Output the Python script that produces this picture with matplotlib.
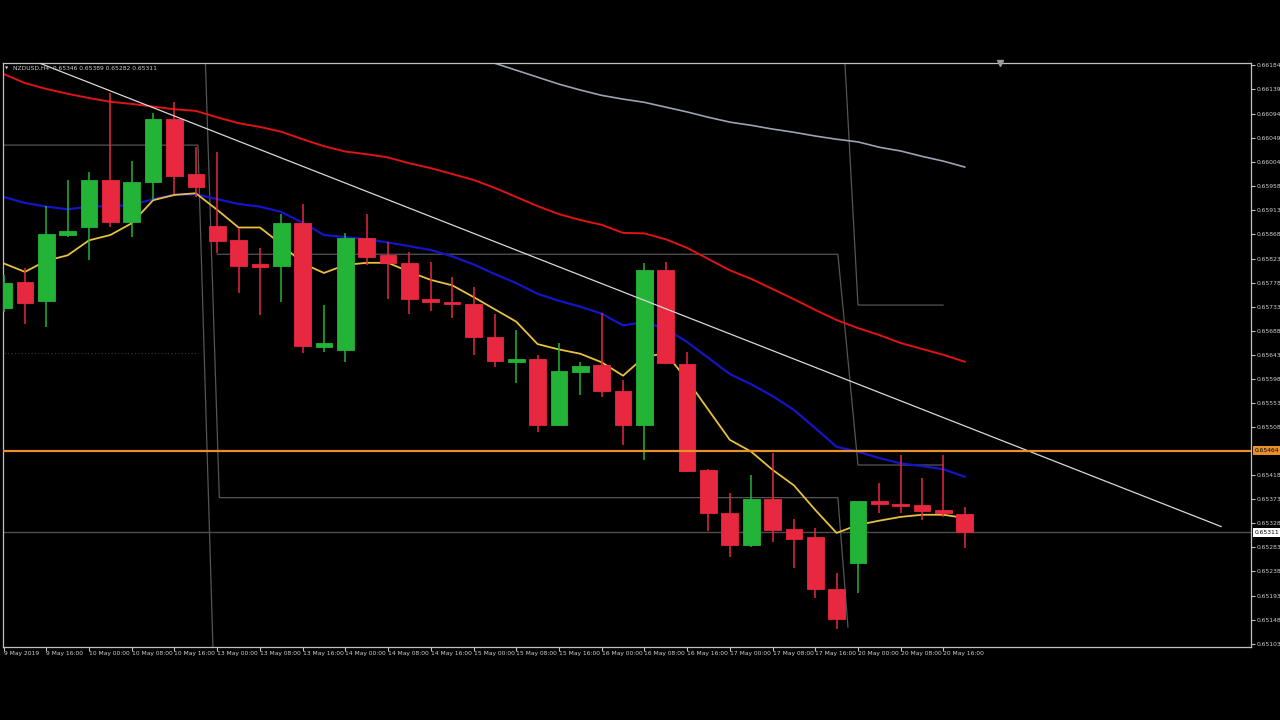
import matplotlib
matplotlib.use("Agg")
import matplotlib.pyplot as plt
import matplotlib.transforms as mtransforms
import numpy as np

# header / axis texts
symbol_text = "NZDUSD,H4  0.65346 0.65389 0.65282 0.65311"
time_labels = ["9 May 2019", "9 May 16:00", "10 May 00:00", "10 May 08:00", "10 May 16:00",
               "13 May 00:00", "13 May 08:00", "13 May 16:00", "14 May 00:00", "14 May 08:00",
               "14 May 16:00", "15 May 00:00", "15 May 08:00", "15 May 16:00", "16 May 00:00",
               "16 May 08:00", "16 May 16:00", "17 May 00:00", "17 May 08:00", "17 May 16:00",
               "20 May 00:00", "20 May 08:00", "20 May 16:00"]
price_ticks = [0.66184, 0.66139, 0.66094, 0.66049, 0.66004, 0.65958, 0.65913, 0.65868, 0.65823,
               0.65778, 0.65733, 0.65688, 0.65643, 0.65598, 0.65553, 0.65508, 0.65418, 0.65373,
               0.65328, 0.65283, 0.65238, 0.65193, 0.65148, 0.65103]

# H4 candles
opens = [0.65730, 0.65780, 0.65743, 0.65867, 0.65881, 0.65970, 0.65891, 0.65966, 0.66084, 0.65981,
         0.65884, 0.65857, 0.65813, 0.65809, 0.65889, 0.65658, 0.65652, 0.65861, 0.65829, 0.65814,
         0.65747, 0.65742, 0.65738, 0.65677, 0.65630, 0.65636, 0.65512, 0.65611, 0.65624, 0.65576,
         0.65512, 0.65801, 0.65626, 0.65428, 0.65348, 0.65287, 0.65373, 0.65317, 0.65302, 0.65206,
         0.65253, 0.65370, 0.65364, 0.65362, 0.65353, 0.65346]
highs = [0.65792, 0.65805, 0.65921, 0.65970, 0.65985, 0.66132, 0.66005, 0.66095, 0.66116, 0.66032,
         0.66023, 0.65880, 0.65843, 0.65906, 0.65925, 0.65736, 0.65870, 0.65906, 0.65854, 0.65836,
         0.65817, 0.65788, 0.65770, 0.65720, 0.65689, 0.65643, 0.65666, 0.65630, 0.65722, 0.65596,
         0.65815, 0.65817, 0.65649, 0.65430, 0.65385, 0.65418, 0.65459, 0.65337, 0.65319, 0.65235,
         0.65370, 0.65403, 0.65456, 0.65412, 0.65456, 0.65358]
lows = [0.65723, 0.65700, 0.65695, 0.65863, 0.65820, 0.65882, 0.65864, 0.65932, 0.65943, 0.65938,
        0.65833, 0.65759, 0.65717, 0.65742, 0.65646, 0.65648, 0.65630, 0.65811, 0.65747, 0.65720,
        0.65725, 0.65711, 0.65643, 0.65621, 0.65590, 0.65499, 0.65510, 0.65568, 0.65565, 0.65474,
        0.65446, 0.65626, 0.65424, 0.65313, 0.65265, 0.65284, 0.65294, 0.65244, 0.65188, 0.65131,
        0.65197, 0.65347, 0.65347, 0.65335, 0.65340, 0.65282]
closes = [0.65778, 0.65739, 0.65869, 0.65874, 0.65970, 0.65891, 0.65966, 0.66084, 0.65978, 0.65957,
          0.65856, 0.65809, 0.65808, 0.65889, 0.65660, 0.65666, 0.65861, 0.65826, 0.65814, 0.65747,
          0.65742, 0.65738, 0.65676, 0.65631, 0.65635, 0.65512, 0.65613, 0.65623, 0.65575, 0.65512,
          0.65801, 0.65627, 0.65426, 0.65347, 0.65287, 0.65374, 0.65315, 0.65299, 0.65206, 0.65150,
          0.65370, 0.65364, 0.65361, 0.65351, 0.65347, 0.65311]

# moving averages
ma_fast = [0.65814, 0.65798, 0.65819, 0.65829, 0.65857, 0.65867, 0.65889, 0.65932, 0.65942, 0.65945,
           0.65914, 0.65881, 0.65881, 0.65850, 0.65814, 0.65796, 0.65811, 0.65815, 0.65815, 0.65798,
           0.65783, 0.65773, 0.65751, 0.65728, 0.65705, 0.65663, 0.65653, 0.65645, 0.65629, 0.65604,
           0.65639, 0.65646, 0.65596, 0.65540, 0.65484, 0.65462, 0.65428, 0.65399, 0.65353, 0.65310,
           0.65325, 0.65333, 0.65340, 0.65344, 0.65344, 0.65338]
ma_mid = [0.65938, 0.65927, 0.65920, 0.65915, 0.65920, 0.65921, 0.65923, 0.65934, 0.65942, 0.65943,
          0.65934, 0.65925, 0.65920, 0.65910, 0.65890, 0.65867, 0.65863, 0.65859, 0.65853, 0.65846,
          0.65839, 0.65827, 0.65812, 0.65794, 0.65777, 0.65757, 0.65744, 0.65733, 0.65720, 0.65698,
          0.65704, 0.65692, 0.65667, 0.65637, 0.65607, 0.65588, 0.65566, 0.65540, 0.65506, 0.65471,
          0.65462, 0.65450, 0.65440, 0.65435, 0.65429, 0.65415]
ma_slow = [0.66168, 0.66151, 0.66140, 0.66131, 0.66123, 0.66116, 0.66112, 0.66107, 0.66102, 0.66099,
           0.66087, 0.66076, 0.66069, 0.66060, 0.66046, 0.66033, 0.66023, 0.66018, 0.66012, 0.66001,
           0.65992, 0.65981, 0.65970, 0.65955, 0.65938, 0.65921, 0.65906, 0.65895, 0.65886, 0.65871,
           0.65870, 0.65859, 0.65843, 0.65822, 0.65801, 0.65785, 0.65766, 0.65747, 0.65727, 0.65708,
           0.65693, 0.65680, 0.65665, 0.65654, 0.65643, 0.65630]
ma_long = [None] * 21 + [0.66213, 0.66201, 0.66188, 0.66175, 0.66162, 0.66149, 0.66138, 0.66128, 0.66121,
                         0.66115, 0.66106, 0.66097, 0.66087, 0.66078, 0.66072, 0.66065, 0.66059, 0.66052,
                         0.66046, 0.66041, 0.66031, 0.66024, 0.66014, 0.66005, 0.65994]

# drawn objects (bar index, price)
trend_x = [1.7, 57.0]
trend_y = [0.66188, 0.65322]
level_price = 0.65464
bid_price = 0.65311
zone_lines = [
    ([-0.1, 9.1, 9.8], [0.66035, 0.66035, 0.65097]),
    ([9.45, 10.1, 39.06, 39.53], [0.66188, 0.65376, 0.65376, 0.65134]),
    ([10.0, 39.06, 40.0, 43.98], [0.65831, 0.65831, 0.65437, 0.65437]),
    ([39.39, 40.0, 43.98], [0.66188, 0.65736, 0.65736]),
]
dotted_x = [-0.1, 9.1]
dotted_y = [0.65646, 0.65646]
shift_index = 46.65

bull_color = "#23B437"
bear_color = "#E8283F"
text_color = "#D0D0D0"
font_size = 4.3


def main():
    fig = plt.figure(figsize=(12.8, 7.2), dpi=100, facecolor="black")
    ax = fig.add_axes([3 / 1280, 1 - 647 / 720, 1248 / 1280, 584 / 720], facecolor="black")

    n = len(opens)
    idx = np.arange(n)
    o = np.array(opens)
    c = np.array(closes)

    # grey drawing objects behind everything
    for xs, ys in zone_lines:
        ax.plot(xs, ys, color="#555555", lw=0.9, zorder=1)
    ax.plot(dotted_x, dotted_y, color="#3C3C3C", lw=0.8, ls=(0, (1, 2)), zorder=1)
    ax.axhline(bid_price, color="#4E4E4E", lw=1.0, zorder=1)

    # moving averages
    ax.plot(idx, np.array(ma_long, dtype=float), color="#9CA2B4", lw=1.2, zorder=2)
    ax.plot(idx, ma_slow, color="#E01414", lw=1.4, zorder=2)
    ax.plot(idx, ma_mid, color="#1414C8", lw=1.6, zorder=2)
    ax.plot(idx, ma_fast, color="#E8C040", lw=1.3, zorder=2)

    # candles
    colors = [bull_color if c[i] >= o[i] else bear_color for i in range(n)]
    ax.vlines(idx, lows, highs, colors=colors, lw=1.1, zorder=3)
    ax.bar(idx, np.abs(c - o), bottom=np.minimum(o, c), width=0.78, color=colors,
           edgecolor=colors, lw=0.6, zorder=4)

    # trend line and horizontal level
    ax.plot(trend_x, trend_y, color="#D8D8D8", lw=0.9, zorder=5)
    ax.axhline(level_price, color="#E8902A", lw=1.6, zorder=5)

    ax.set_xlim(-0.028, 58.4)
    ax.set_ylim(0.650968, 0.661885)

    for side in ["left", "right", "top", "bottom"]:
        ax.spines[side].set_color("#C0C0C0")
        ax.spines[side].set_linewidth(0.9)

    # right price scale
    ax.yaxis.tick_right()
    ax.set_yticks(price_ticks)
    ax.set_yticklabels(["%.5f" % p for p in price_ticks])
    ax.tick_params(axis="y", length=3, color="#C0C0C0", labelsize=font_size, labelcolor=text_color, pad=1)

    # time scale
    ax.set_xticks(idx[::2])
    ax.set_xticklabels(time_labels)
    ax.tick_params(axis="x", length=3, color="#C0C0C0", labelsize=font_size, labelcolor=text_color, pad=0)
    for lbl in ax.get_xticklabels():
        lbl.set_horizontalalignment("left")

    # price boxes on the scale
    trans = mtransforms.blended_transform_factory(ax.transAxes, ax.transData)
    ax.text(1.003, level_price, "%.5f" % level_price, transform=trans, fontsize=font_size, color="black",
            va="center", ha="left", clip_on=False,
            bbox=dict(facecolor="#E8902A", edgecolor="none", pad=1.2))
    ax.text(1.003, bid_price, "%.5f" % bid_price, transform=trans, fontsize=font_size, color="black",
            va="center", ha="left", clip_on=False,
            bbox=dict(facecolor="white", edgecolor="none", pad=1.2))

    # chart shift marker
    ax.plot([shift_index], [0.661885], marker="v", ms=4, color="#9A9A9A", clip_on=False, zorder=6)

    # symbol header
    fig.text(5 / 1280, 1 - 68 / 720, "\u25bc", fontsize=3, color=text_color, va="center")
    fig.text(13 / 1280, 1 - 68 / 720, symbol_text, fontsize=font_size, color=text_color, va="center")

    fig.savefig("out.png", dpi=100, facecolor="black")


if __name__ == '__main__':
    main()
